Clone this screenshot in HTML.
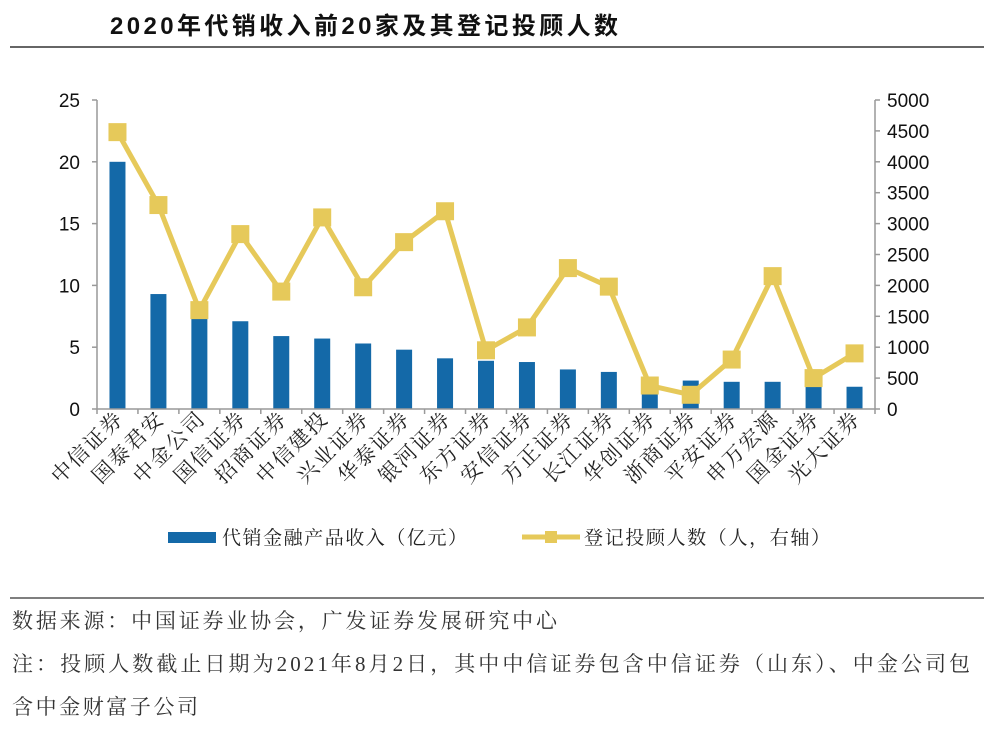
<!DOCTYPE html>
<html><head><meta charset="utf-8"><style>
body{margin:0;background:#fff;width:984px;height:727px;overflow:hidden;font-family:"Liberation Sans","Noto Sans CJK SC",sans-serif}
</style></head><body>
<svg width="984" height="727" xmlns="http://www.w3.org/2000/svg">
<text x="110" y="34" font-size="24" font-weight="bold" fill="#111" textLength="508" lengthAdjust="spacing" font-family="Liberation Sans, Noto Sans CJK SC, sans-serif">2020年代销收入前20家及其登记投顾人数</text>
<line x1="10" y1="47" x2="984" y2="47" stroke="#333" stroke-width="1.5"/>
<line x1="10" y1="598" x2="984" y2="598" stroke="#333" stroke-width="1.2"/>
<g id="g"></g>
<g font-size="21" fill="#333" font-family="Liberation Serif, Noto Serif CJK SC, serif">
<text x="12" y="628" textLength="545" lengthAdjust="spacing">数据来源：中国证券业协会，广发证券发展研究中心</text>
<text x="12" y="671" textLength="958" lengthAdjust="spacing">注：投顾人数截止日期为2021年8月2日，其中中信证券包含中信证券（山东）、中金公司包</text>
<text x="12" y="714" textLength="186" lengthAdjust="spacing">含中金财富子公司</text>
</g>
<rect x="168" y="532" width="48" height="11" fill="#1469a8"/>
<text x="222" y="544" font-size="19" fill="#222" textLength="245" lengthAdjust="spacing" font-family="Liberation Serif, Noto Serif CJK SC, serif">代销金融产品收入（亿元）</text>
<line x1="522" y1="537" x2="580" y2="537" stroke="#e6c95a" stroke-width="5"/>
<rect x="545" y="531" width="12" height="12" fill="#e6c95a"/>
<text x="584" y="544" font-size="19" fill="#222" textLength="246" lengthAdjust="spacing" font-family="Liberation Serif, Noto Serif CJK SC, serif">登记投顾人数（人，右轴）</text>
</svg>
<script>
const names=["中信证券","国泰君安","中金公司","国信证券","招商证券","中信建投","兴业证券","华泰证券","银河证券","东方证券","安信证券","方正证券","长江证券","华创证券","浙商证券","平安证券","申万宏源","国金证券","光大证券"];
const bars=[20,9.3,7.3,7.1,5.9,5.7,5.3,4.8,4.1,3.9,3.8,3.2,3.0,1.3,2.3,2.2,2.2,1.9,1.8];
const line=[4480,3300,1600,2830,1900,3100,1970,2700,3200,950,1320,2280,1980,380,230,800,2150,500,900];
const L=97,R=875,Y0=409,Y1=100,n=19,w=(R-L)/n,k=(Y0-Y1)/25;
let s='';
s+=`<line x1="${L}" y1="${Y1}" x2="${L}" y2="${Y0}" stroke="#999" stroke-width="1.5"/>`;
s+=`<line x1="${R}" y1="${Y1}" x2="${R}" y2="${Y0}" stroke="#999" stroke-width="1.5"/>`;
for(let i=0;i<=5;i++){const y=Y0-i*5*k;
s+=`<line x1="${L-5}" y1="${y}" x2="${L}" y2="${y}" stroke="#999" stroke-width="1.5"/><text x="${L-17}" y="${y+7}" font-size="19" text-anchor="end" fill="#111">${i*5}</text>`;}
for(let i=0;i<=10;i++){const y=Y0-i*500*k/200;
s+=`<line x1="${R}" y1="${y}" x2="${R+5}" y2="${y}" stroke="#999" stroke-width="1.5"/><text x="${R+12}" y="${y+7}" font-size="19" fill="#111">${i*500}</text>`;}
for(let i=0;i<n;i++){const c=L+w*(i+.5),h=bars[i]*k;
s+=`<rect x="${c-8}" y="${Y0-h}" width="16" height="${h}" fill="#1469a8"/>`;
s+=`<text transform="translate(${c+6},${Y0+12}) rotate(-45)" font-size="21" text-anchor="end" fill="#222" textLength="90" lengthAdjust="spacing" font-family="Liberation Serif, Noto Serif CJK SC, serif">${names[i]}</text>`;}
for(let i=0;i<=n;i++){const x=L+w*i;s+=`<line x1="${x}" y1="${Y0}" x2="${x}" y2="${Y0+5}" stroke="#999" stroke-width="1.5"/>`;}
s+=`<line x1="${L}" y1="${Y0}" x2="${R}" y2="${Y0}" stroke="#999" stroke-width="1.5"/>`;
const pts=line.map((v,i)=>[L+w*(i+.5),Y0-v*k/200]);
s+=`<polyline points="${pts.map(p=>p.join(',')).join(' ')}" fill="none" stroke="#e6c95a" stroke-width="5" stroke-linejoin="round"/>`;
pts.forEach(p=>{s+=`<rect x="${p[0]-9}" y="${p[1]-9}" width="18" height="18" fill="#e6c95a"/>`;});
document.getElementById('g').innerHTML=s;
</script>
</body></html>
